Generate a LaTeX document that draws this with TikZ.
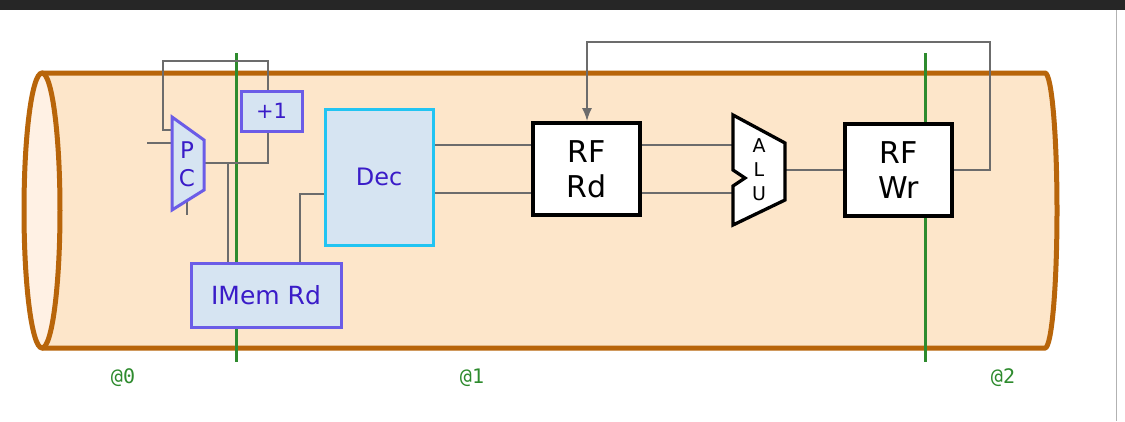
\documentclass[tikz,border=0pt]{standalone}
\usetikzlibrary{arrows.meta}
\usepackage{fontspec}
\setmainfont{DejaVu Sans}
\newfontfamily\monof{DejaVu Sans Mono}
\definecolor{cylf}{HTML}{FDE6CA}
\definecolor{cyle}{HTML}{FFF1E4}
\definecolor{cyld}{HTML}{B8650A}
\definecolor{nodef}{HTML}{D6E4F2}
\definecolor{nodee}{HTML}{6B5CE7}
\definecolor{ntxt}{HTML}{3A1CC8}
\definecolor{decd}{HTML}{22C4F2}
\definecolor{grn}{HTML}{2E8B2E}
\begin{document}
\begin{tikzpicture}[x=1pt,y=-1pt,
  wire/.style={draw=gray!85!black,line width=1.5pt},
  blu/.style={draw=nodee,fill=nodef,line width=3pt,text=ntxt},
  blk/.style={draw=black,fill=white,line width=3.3pt,align=center,font=\fontsize{30}{35}\selectfont},
  stage/.style={draw=grn,line width=3pt},
  lab/.style={text=grn,font=\monof\fontsize{20}{24}\selectfont}]
\useasboundingbox (0,0) rectangle (1125,421);
\fill[white] (0,0) rectangle (1125,421);
\fill[black!85] (0,0) rectangle (1125,10);
\draw[gray!60,line width=1pt] (1116,10) -- (1116,421);
% cylinder
\draw[draw=cyld,fill=cylf,line width=5pt]
  (42,73) -- (1045,73) arc[start angle=-90,end angle=90,x radius=12,y radius=137.5] -- (42,348);
\draw[draw=cyld,fill=cyle,line width=5pt] (42,210.5) ellipse[x radius=18,y radius=137.5];
% stage lines
\draw[stage] (236,53) -- (236,362);
\draw[stage] (925,53) -- (925,362);
% wires
\draw[wire] (172,130) -- (163,130) -- (163,61) -- (268,61) -- (268,91);
\draw[wire] (147,143) -- (172,143);
\draw[wire] (187,200) -- (187,215);
\draw[wire] (204,163) -- (268,163) -- (268,131);
\draw[wire] (228,163) -- (228,263);
\draw[wire] (300,263) -- (300,194) -- (325,194);
\draw[wire] (433,145) -- (533,145);
\draw[wire] (433,193) -- (533,193);
\draw[wire] (640,145) -- (733,145);
\draw[wire] (640,193) -- (733,193);
\draw[wire] (785,170) -- (845,170);
\draw[wire,-{Latex[length=13pt,width=10pt]}] (952,170) -- (990,170) -- (990,42) -- (587,42) -- (587,121);
% nodes
\node[blu,minimum width=61pt,minimum height=40pt,font=\fontsize{21}{25}\selectfont] (inc) at (271.5,111) {+1};
\node[blu,minimum width=150pt,minimum height=64pt,font=\fontsize{25}{30}\selectfont] (imem) at (266,295) {IMem Rd};
\node[blu,draw=decd,minimum width=108pt,minimum height=136pt,font=\fontsize{24}{28}\selectfont] (dec) at (379,177) {Dec};
\node[blk,minimum width=107pt,minimum height=92pt] (rfrd) at (586.5,169) {RF\\Rd};
\node[blk,minimum width=107pt,minimum height=92pt] (rfwr) at (898.5,170) {RF\\Wr};
\draw[blu] (172,117) -- (204,140) -- (204,190) -- (172,210) -- cycle;
\node[text=ntxt,font=\fontsize{23}{27}\selectfont] (pcp) at (187,150) {P};
\node[text=ntxt,font=\fontsize{23}{27}\selectfont] (pcc) at (187,178) {C};
\draw[fill=white,line width=3.3pt,line join=miter] (733,115) -- (785,143) -- (785,200) -- (733,225) -- (733,186) -- (745,178) -- (733,170) -- cycle;
\node[font=\fontsize{19}{22}\selectfont] (aa) at (759,146) {A};
\node[font=\fontsize{19}{22}\selectfont] (al) at (759,170) {L};
\node[font=\fontsize{19}{22}\selectfont] (au) at (759,194) {U};
% labels
\node[lab] (s0) at (123,378) {@0};
\node[lab] (s1) at (472,378) {@1};
\node[lab] (s2) at (1003,378) {@2};
\end{tikzpicture}
\end{document}
